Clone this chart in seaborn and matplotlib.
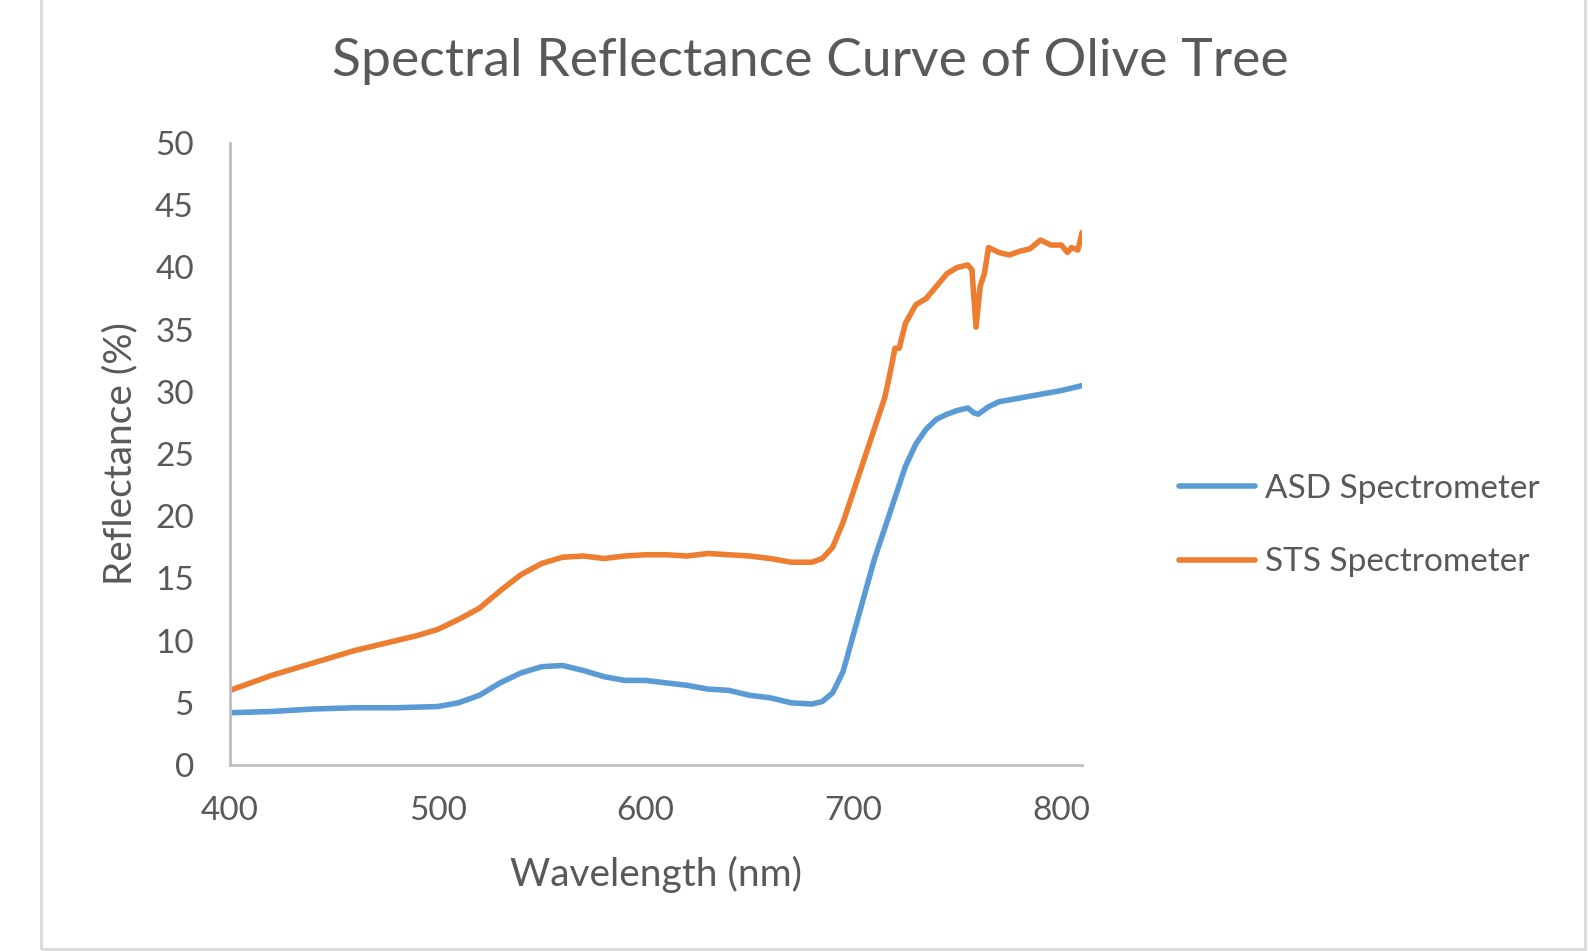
import matplotlib.pyplot as plt
import pandas as pd
import seaborn as sns
from matplotlib.patches import Rectangle

# %% Data
asd_wavelength = [400, 420, 440, 460, 480, 500, 510, 520, 530, 540, 550, 560, 570,
                  580, 590, 600, 610, 620, 630, 640, 650, 660, 670, 680, 685, 690,
                  695, 700, 705, 710, 715, 720, 725, 730, 735, 740, 745, 750, 755,
                  758, 760, 765, 770, 780, 790, 800, 810]
asd_reflectance = [4.2, 4.3, 4.5, 4.6, 4.6, 4.7, 5.0, 5.6, 6.6, 7.4, 7.9, 8.0, 7.6,
                   7.1, 6.8, 6.8, 6.6, 6.4, 6.1, 6.0, 5.6, 5.4, 5.0, 4.9, 5.1, 5.8,
                   7.5, 10.5, 13.5, 16.5, 19.0, 21.5, 24.0, 25.8, 27.0, 27.8, 28.2, 28.5, 28.7,
                   28.3, 28.2, 28.8, 29.2, 29.5, 29.8, 30.1, 30.5]

sts_wavelength = [400, 410, 420, 430, 440, 450, 460, 470, 480, 490, 500, 510, 520,
                  530, 540, 550, 560, 570, 580, 590, 600, 610, 620, 630, 640, 650,
                  660, 670, 680, 685, 690, 695, 700, 705, 710, 715, 717, 720, 722,
                  725, 730, 735, 740, 745, 750, 755, 757, 759, 761, 763, 765, 770,
                  775, 780, 785, 790, 795, 800, 803, 805, 808, 810]
sts_reflectance = [6.0, 6.6, 7.2, 7.7, 8.2, 8.7, 9.2, 9.6, 10.0, 10.4, 10.9, 11.7, 12.6,
                   14.0, 15.3, 16.2, 16.7, 16.8, 16.6, 16.8, 16.9, 16.9, 16.8, 17.0, 16.9, 16.8,
                   16.6, 16.3, 16.3, 16.6, 17.5, 19.5, 22.0, 24.5, 27.0, 29.5, 31.0, 33.5, 33.5,
                   35.5, 37.0, 37.5, 38.5, 39.5, 40.0, 40.2, 39.8, 35.2, 38.5, 39.5, 41.6, 41.2,
                   41.0, 41.3, 41.5, 42.2, 41.8, 41.8, 41.2, 41.6, 41.4, 42.8]

series_names = ["ASD Spectrometer", "STS Spectrometer"]
series_colors = ["#5B9BD5", "#ED7D31"]

df = pd.concat([
    pd.DataFrame({"wavelength": asd_wavelength, "reflectance": asd_reflectance,
                  "series": series_names[0]}),
    pd.DataFrame({"wavelength": sts_wavelength, "reflectance": sts_reflectance,
                  "series": series_names[1]}),
])

# %% Plot
sns.set_style("white")
plt.rcParams["font.family"] = ["Lato", "DejaVu Sans"]
text_color = "#595959"

fig = plt.figure(figsize=(15.88, 9.51), dpi=100)
ax = fig.add_axes([0.1448, 0.1956, 0.5366, 0.654])

sns.lineplot(data=df, x="wavelength", y="reflectance", hue="series",
             palette=dict(zip(series_names, series_colors)), linewidth=4,
             sort=False, ax=ax)

ax.set_xlim(400, 810)
ax.set_ylim(0, 50)
ax.set_xticks(range(400, 801, 100))
ax.set_yticks(range(0, 51, 5))
ax.tick_params(axis="x", length=0, labelsize=24, labelcolor=text_color, pad=22)
ax.tick_params(axis="y", length=0, labelsize=24, labelcolor=text_color, pad=26)

for side in ["top", "right"]:
    ax.spines[side].set_visible(False)
for side in ["left", "bottom"]:
    ax.spines[side].set_color("#BFBFBF")
    ax.spines[side].set_linewidth(2)

ax.set_xlabel("Wavelength (nm)", fontsize=28, color=text_color, labelpad=22)
ax.set_ylabel("Reflectance (%)", fontsize=28, color=text_color, labelpad=12)
fig.suptitle("Spectral Reflectance Curve of Olive Tree", fontsize=38.5,
             color=text_color, x=0.51, y=0.96)

ax.legend(loc="center left", bbox_to_anchor=(1.078, 0.385), frameon=False,
          fontsize=24, labelcolor=text_color, handlelength=2.3,
          handletextpad=0.3, labelspacing=1.3)

# light frame around the chart area like the source
fig.patches.append(Rectangle((41 / 1588, 2 / 951), 1544 / 1588, 1.2,
                             transform=fig.transFigure, fill=False,
                             edgecolor="#D9D9D9", linewidth=2))

fig.savefig("out.png", dpi=100)
plt.close(fig)
